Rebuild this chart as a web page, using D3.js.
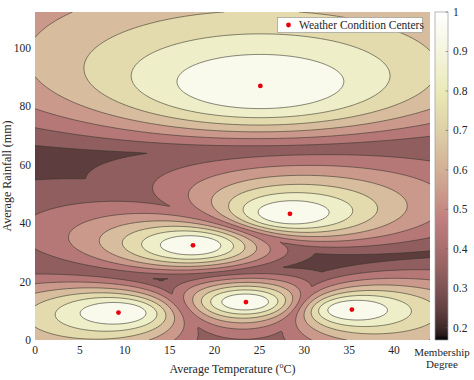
<!DOCTYPE html>
<html><head><meta charset="utf-8">
<script src="https://cdn.jsdelivr.net/npm/d3@7"></script>
<style>
body{margin:0;background:#fff}
svg{display:block}
text{font-family:"Liberation Serif","Times New Roman",serif;fill:#262626}
</style>
</head><body>
<svg id="chart" width="474" height="380"></svg>
<script>
// ---- data ----
const centerTemp = [9.3, 23.5, 35.3, 17.6, 28.4, 25.1];   // °C
const centerRain = [9.4, 13.0, 10.4, 32.4, 43.2, 87.0];   // mm
const contourLevels = [0.2, 0.3, 0.4, 0.5, 0.6, 0.7, 0.8, 0.9];
const xTicks = [0, 5, 10, 15, 20, 25, 30, 35, 40];
const yTicks = [0, 20, 40, 60, 80, 100];
const cbTicks = [0.2, 0.3, 0.4, 0.5, 0.6, 0.7, 0.8, 0.9, 1];
const fuzzifier = 2;
const tempRange = [0, 44];
const rainRange = [0, 112.3];
const colorRange = [0.169, 1];

// ---- layout ----
const svg = d3.select("#chart");
const plot = {left: 35, right: 430, top: 12, bottom: 340};
const x = d3.scaleLinear().domain(tempRange).range([plot.left, plot.right]);
const y = d3.scaleLinear().domain(rainRange).range([plot.bottom, plot.top]);

// MATLAB "pink" colormap
function pink(t) {
  t = Math.max(0, Math.min(1, t));
  const c = v => Math.max(0, Math.min(1, v));
  const hr = c(t / 0.375), hg = c((t - 0.375) / 0.375), hb = c((t - 0.75) / 0.25);
  const f = h => Math.round(255 * Math.sqrt((2 * t + h) / 3));
  return `rgb(${f(hr)},${f(hg)},${f(hb)})`;
}
const cnorm = d3.scaleLinear().domain(colorRange).range([0, 1]);
const colorOf = v => pink(cnorm(v));

// ---- membership field (fuzzy c-means, max membership) ----
const nx = 221, ny = 226;
const stepX = (tempRange[1] - tempRange[0]) / (nx - 1);
const stepY = (rainRange[1] - rainRange[0]) / (ny - 1);
const expo = 2 / (fuzzifier - 1);
const values = new Float64Array(nx * ny);
for (let j = 0; j < ny; j++) {
  const yy = rainRange[0] + j * stepY;
  for (let i = 0; i < nx; i++) {
    const xx = tempRange[0] + i * stepX;
    const d = centerTemp.map((cx, k) => Math.hypot(xx - cx, yy - centerRain[k]));
    let best = 0;
    for (let a = 0; a < d.length; a++) {
      let u;
      if (d[a] === 0) u = 1;
      else {
        let s = 0;
        for (let b = 0; b < d.length; b++) s += Math.pow(d[a] / d[b], expo);
        u = 1 / s;
      }
      if (u > best) best = u;
    }
    values[j * nx + i] = best;
  }
}

const contours = d3.contours().size([nx, ny]).thresholds(contourLevels)(values);
const proj = d3.geoTransform({
  point(px, py) {
    this.stream.point(x(tempRange[0] + (px - 0.5) * stepX), y(rainRange[0] + (py - 0.5) * stepY));
  }
});
const path = d3.geoPath(proj);

svg.append("clipPath").attr("id", "clip").append("rect")
  .attr("x", plot.left).attr("y", plot.top)
  .attr("width", plot.right - plot.left).attr("height", plot.bottom - plot.top);

const g = svg.append("g").attr("clip-path", "url(#clip)");
g.append("rect").attr("x", plot.left).attr("y", plot.top)
  .attr("width", plot.right - plot.left).attr("height", plot.bottom - plot.top)
  .attr("fill", colorOf(0.185));
g.selectAll("path.fill").data(contours).join("path")
  .attr("class", "fill")
  .attr("d", path)
  .attr("fill", d => colorOf(d.value + 0.04))
  .attr("stroke", "none");
g.selectAll("path.line").data(contours).join("path")
  .attr("class", "line")
  .attr("d", path)
  .attr("fill", "none")
  .attr("stroke", "#35352b")
  .attr("stroke-width", 0.7)
  .attr("stroke-opacity", 0.85);

// centers
g.selectAll("circle.ctr").data(centerTemp).join("circle")
  .attr("class", "ctr")
  .attr("cx", d => x(d))
  .attr("cy", (d, i) => y(centerRain[i]))
  .attr("r", 2.4)
  .attr("fill", "#e8000b");

// axes tick labels
svg.append("g").selectAll("text").data(xTicks).join("text")
  .attr("x", d => x(d)).attr("y", 354)
  .attr("text-anchor", "middle").attr("font-size", 11.5)
  .text(d => d);
svg.append("g").selectAll("text").data(yTicks).join("text")
  .attr("x", 31).attr("y", d => y(d) + 4)
  .attr("text-anchor", "end").attr("font-size", 11.5)
  .text(d => d);

// axis titles
const xl = svg.append("text").attr("x", (plot.left + plot.right) / 2).attr("y", 373)
  .attr("text-anchor", "middle").attr("font-size", 12);
xl.append("tspan").text("Average Temperature (");
xl.append("tspan").attr("font-size", 8).attr("dy", -5).text("o");
xl.append("tspan").attr("dy", 5).text("C)");
svg.append("text")
  .attr("transform", `translate(11,${(plot.top + plot.bottom) / 2}) rotate(-90)`)
  .attr("text-anchor", "middle").attr("font-size", 12)
  .text("Average Rainfall (mm)");

// legend
const lg = svg.append("g");
lg.append("rect").attr("x", 277.5).attr("y", 17.5).attr("width", 145).attr("height", 15)
  .attr("fill", "#fff").attr("stroke", "#8c8c8c").attr("stroke-width", 0.6);
lg.append("circle").attr("cx", 288.5).attr("cy", 25).attr("r", 2.4).attr("fill", "#e8000b");
lg.append("text").attr("x", 299).attr("y", 29).attr("font-size", 11.5).text("Weather Condition Centers");

// colorbar
const cb = {x: 435, w: 13};
const cy = d3.scaleLinear().domain(colorRange).range([plot.bottom, plot.top]);
const defs = svg.append("defs");
const grad = defs.append("linearGradient").attr("id", "cbg")
  .attr("x1", 0).attr("y1", 1).attr("x2", 0).attr("y2", 0);
d3.range(0, 65).forEach(k => {
  grad.append("stop").attr("offset", k / 64).attr("stop-color", pink(k / 64));
});
svg.append("rect").attr("x", cb.x).attr("y", plot.top).attr("width", cb.w)
  .attr("height", plot.bottom - plot.top).attr("fill", "url(#cbg)")
  .attr("stroke", "#9a9a9a").attr("stroke-width", 0.7);
const cbt = svg.append("g");
cbt.selectAll("line").data(cbTicks).join("line")
  .attr("x1", cb.x + cb.w - 2.5).attr("x2", cb.x + cb.w)
  .attr("y1", d => cy(d)).attr("y2", d => cy(d))
  .attr("stroke", "#666").attr("stroke-width", 0.6);
cbt.selectAll("text").data(cbTicks).join("text")
  .attr("x", 453).attr("y", d => cy(d) + 4)
  .attr("font-size", 11.5).text(d => d);
svg.append("text").attr("x", 442).attr("y", 356).attr("text-anchor", "middle")
  .attr("font-size", 11).text("Membership");
svg.append("text").attr("x", 442).attr("y", 368).attr("text-anchor", "middle")
  .attr("font-size", 11).text("Degree");
</script>
</body></html>
